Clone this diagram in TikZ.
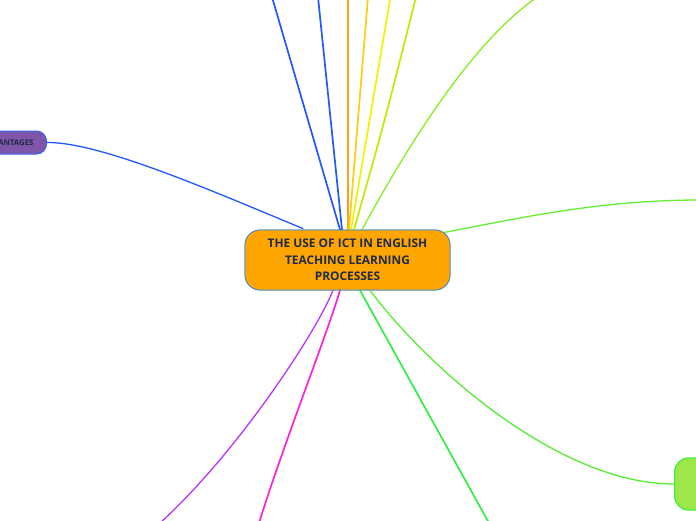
\documentclass[tikz,border=0pt]{standalone}
\usepackage{fontspec}
\setmainfont{Open Sans}
\usetikzlibrary{calc}
\definecolor{cfill}{HTML}{FFA500}
\definecolor{cborder}{HTML}{3C8CC8}
\definecolor{ctext}{HTML}{1E2B4A}
\definecolor{cblue}{HTML}{2258FF}
\definecolor{corange}{HTML}{FFA020}
\definecolor{cgold}{HTML}{FFCC11}
\definecolor{cyellow}{HTML}{F2F200}
\definecolor{cyg}{HTML}{BBEE00}
\definecolor{clime}{HTML}{88EE22}
\definecolor{cgreenA}{HTML}{66EE33}
\definecolor{cgreenB}{HTML}{33EE44}
\definecolor{cgreenC}{HTML}{55EE33}
\definecolor{cpurple}{HTML}{BB33FF}
\definecolor{cmagenta}{HTML}{FF22DD}
\definecolor{dfill}{HTML}{7E55A8}
\definecolor{dborder}{HTML}{3366FF}
\definecolor{gfill}{HTML}{9EE64A}
\definecolor{gborder}{HTML}{44EE44}
\tikzset{
  central/.style={draw=cborder, line width=0.8pt, fill=cfill, rounded corners=15pt,
    minimum width=205pt, minimum height=60pt, align=center, text=ctext,
    font=\fontsize{11.9}{16.5}\selectfont\bfseries, inner sep=0pt},
  subnode/.style={draw=dborder, line width=1pt, fill=dfill, rounded corners=10pt,
    minimum height=23pt, text=ctext, font=\fontsize{7.8}{9}\selectfont\bfseries,
    inner xsep=13pt},
  greennode/.style={draw=gborder, line width=1.3pt, fill=gfill, rounded corners=14pt,
    minimum width=60pt, minimum height=52pt},
  branch/.style={line width=1.7pt, line cap=round},
  thinbranch/.style={line width=1.3pt, line cap=round}
}
\begin{document}
\begin{tikzpicture}[x=1pt,y=-1pt]
\useasboundingbox (0,0) rectangle (696,520);
\clip (0,0) rectangle (696,520);
\node[central] (c) at (347.5,260) {THE USE OF ICT IN ENGLISH\\TEACHING LEARNING\\PROCESSES};
\node[subnode, anchor=east] (dis) at (47,142.5) {DISADVANTAGES};
\node[greennode, anchor=west] (gn) at (674,484) {};
% free ends
\coordinate (t1) at (272,-3);
\coordinate (t2) at (318,-3);
\coordinate (t3) at (348,-3);
\coordinate (t4) at (368,-3);
\coordinate (t5) at (390.5,-3);
\coordinate (t6) at (416,-3);
\coordinate (t7) at (542,-6);
\coordinate (r8) at (700,200);
\coordinate (b10) at (160,523);
\coordinate (b11) at (259,523);
\coordinate (b12) at (489,523);
% top branches
\draw[branch, cblue] ($(c.north)+(-7.5,0)$) -- (t1);
\draw[branch, cblue] ($(c.north)+(-5.5,0)$) -- (t2);
\draw[branch, corange] ($(c.north)+(0.5,0)$) -- (t3);
\draw[branch, cgold] ($(c.north)+(1.5,0)$) -- (t4);
\draw[branch, cyellow] ($(c.north)+(3.5,0)$) -- (t5);
\draw[branch, cyg] ($(c.north)+(6.5,0)$) .. controls (385,120) .. (t6);
\draw[thinbranch, clime] ($(c.north)+(14.5,0)$) .. controls (400,160) and (470,40) .. (t7);
\draw[thinbranch, cgreenA] ($(c.north east)+(-7,3)$) .. controls (520,218) and (600,200) .. (r8);
% left branch
\draw[thinbranch, cblue] ($(c.north)+(-44.5,-1)$) .. controls (210,190) and (100,142) .. (dis.east);
% bottom branches
\draw[thinbranch, cpurple] ($(c.south)+(-14.5,0)$) .. controls (315,335) and (235,455) .. (b10);
\draw[branch, cmagenta] ($(c.south)+(-7.5,0)$) .. controls (325,340) and (285,440) .. (b11);
\draw[branch, cgreenB] ($(c.south)+(12.5,0)$) -- (b12);
\draw[thinbranch, cgreenC] ($(c.south)+(22.5,0)$) .. controls (430,370) and (560,484) .. (gn.west);
% redraw central node on top of the branch ends
\node[central] at (c.center) {THE USE OF ICT IN ENGLISH\\TEACHING LEARNING\\PROCESSES};
\end{tikzpicture}
\end{document}
